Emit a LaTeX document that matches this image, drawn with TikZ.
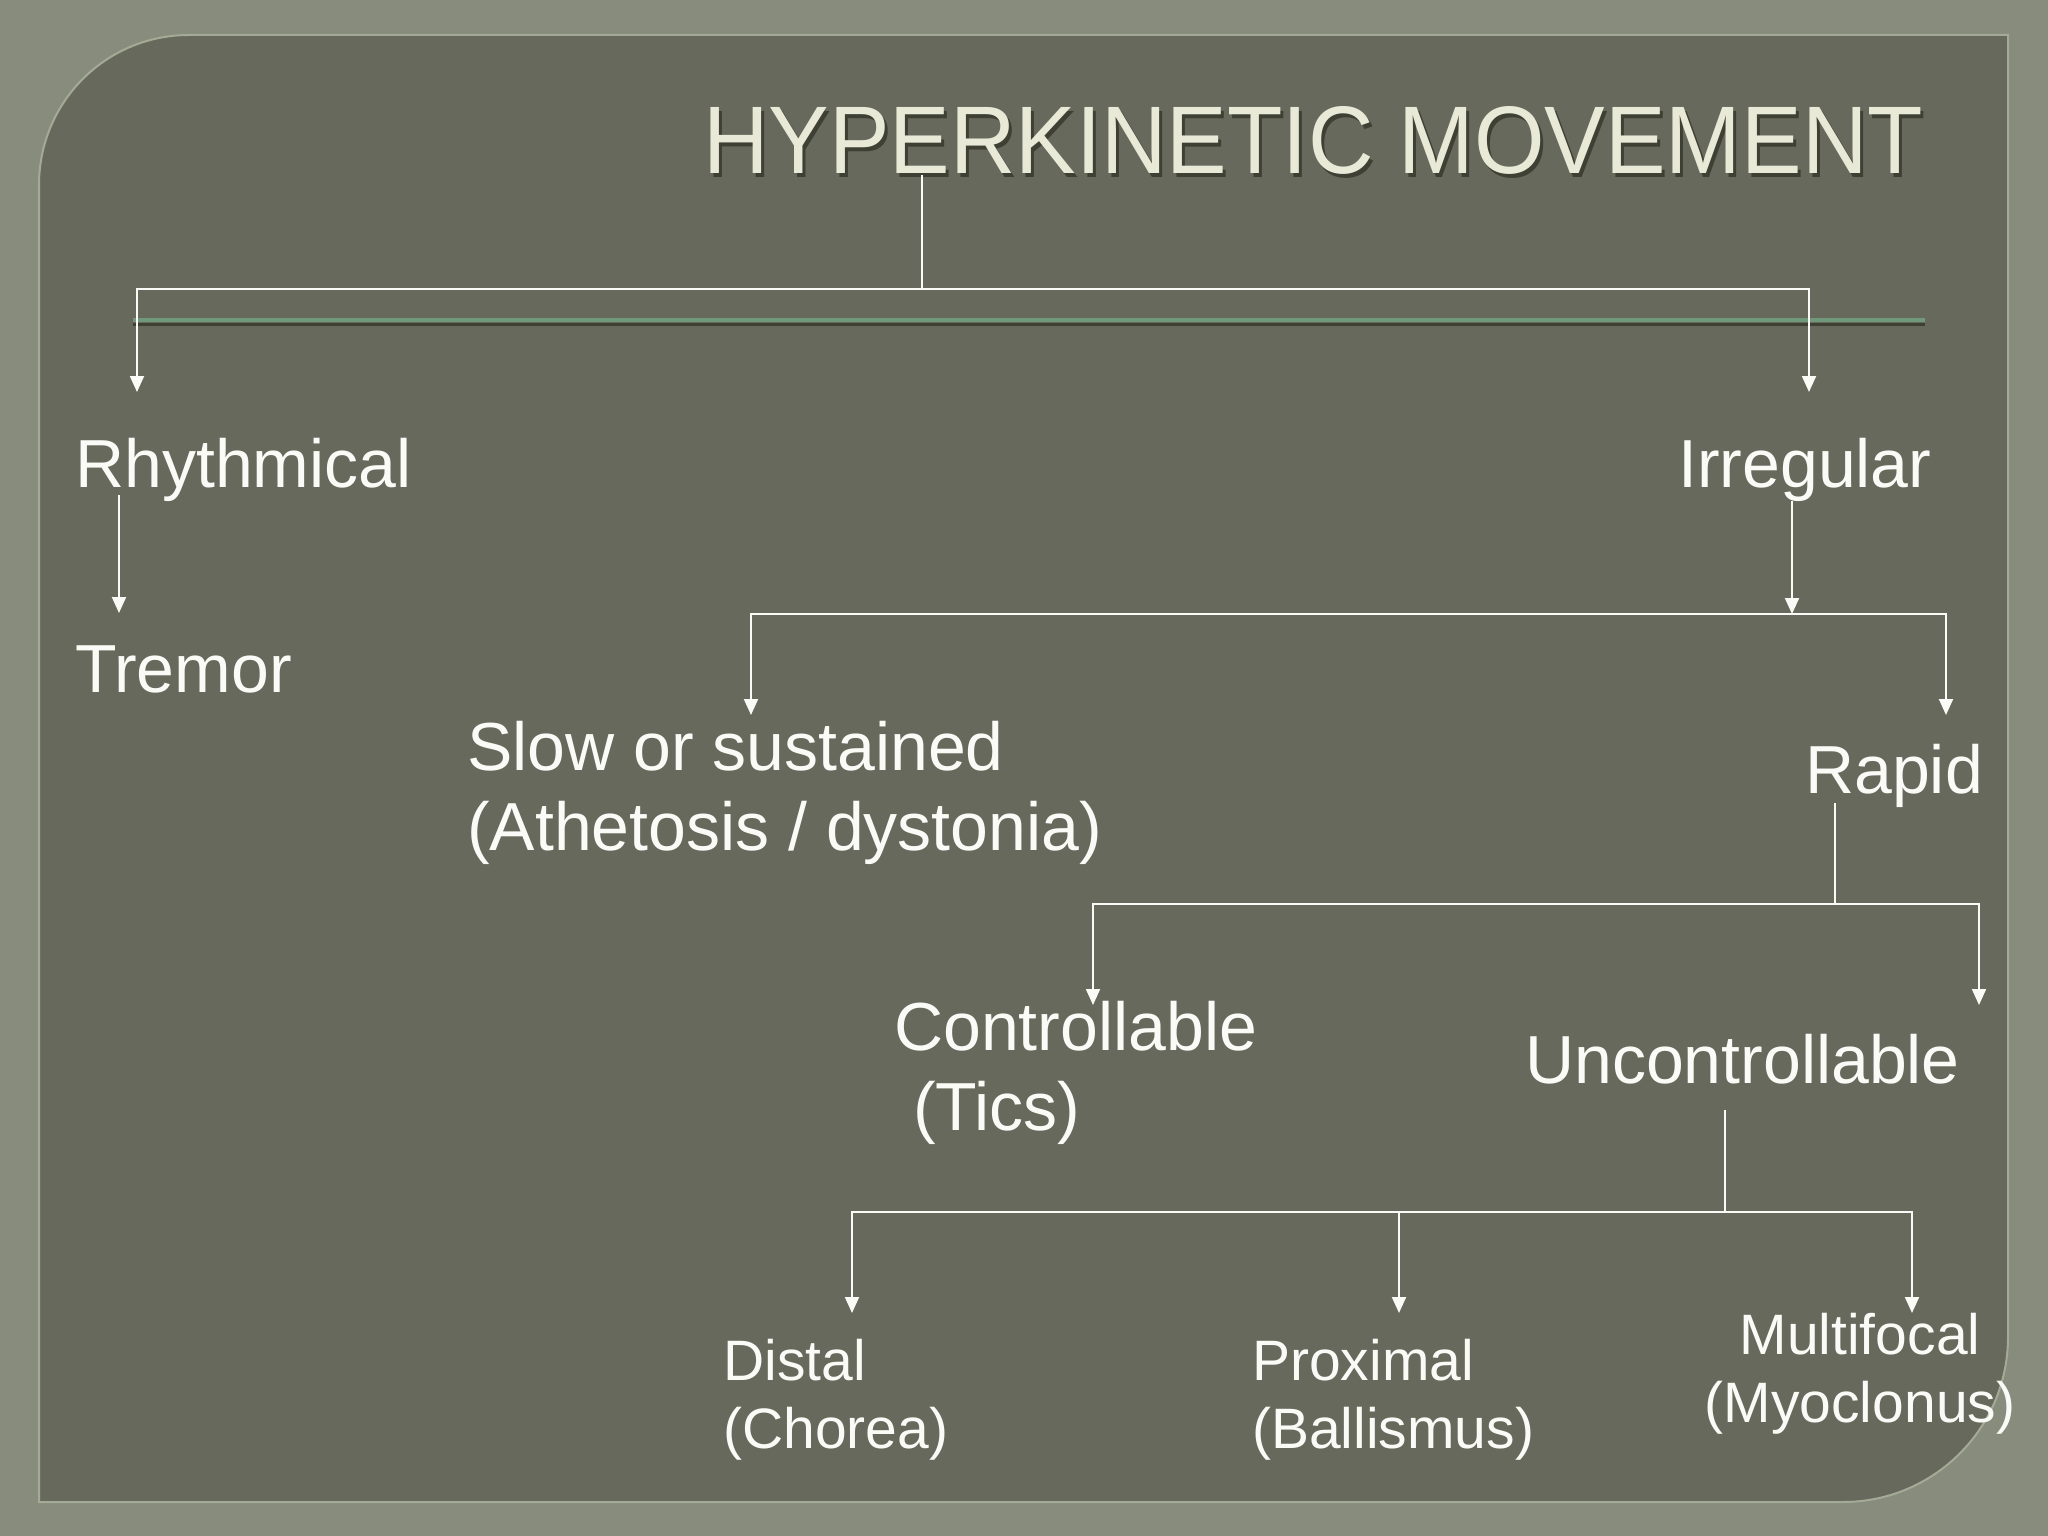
\documentclass[tikz,border=0pt]{standalone}
\usepackage{fontspec}
\setmainfont{Liberation Sans}
\usetikzlibrary{arrows.meta,calc}

\definecolor{slatebg}{RGB}{136,140,124}
\definecolor{panelgrey}{RGB}{103,105,92}
\definecolor{paneledge}{RGB}{165,170,150}
\definecolor{titlecream}{RGB}{232,233,214}
\definecolor{rulegreen}{RGB}{112,152,122}
\definecolor{shadowgrey}{RGB}{62,64,52}
\definecolor{inkwhite}{RGB}{250,250,246}

\begin{document}
\begin{tikzpicture}[x=1pt,y=-1pt,
  txt/.style={inner sep=0pt,anchor=base west,text=inkwhite,align=left,font=\fontsize{68}{80}\selectfont},
  txtsmall/.style={txt,font=\fontsize{57}{68}\selectfont},
  headline/.style={inner sep=0pt,anchor=base west,font=\fontsize{96}{96}\selectfont},
  wire/.style={draw=inkwhite,line width=2pt},
  arr/.style={wire,-{Triangle[width=14pt,length=16pt]}}]
\useasboundingbox (0,0) rectangle (2048,1536);

% slide background
\fill[slatebg] (0,0) rectangle (2048,1536);
\fill[panelgrey] (39,1502) -- (39,185) .. controls (39,102) and (106,35) .. (189,35)
  -- (2008,35) -- (2008,1337) .. controls (2008,1428) and (1934,1502) .. (1843,1502) -- cycle;
\draw[paneledge,line width=2pt] (39,1502) -- (39,185) .. controls (39,102) and (106,35) .. (189,35)
  -- (2008,35) -- (2008,1337) .. controls (2008,1428) and (1934,1502) .. (1843,1502) -- cycle;
\draw[shadowgrey,line width=3pt] (133,324) -- (1925,324);
\draw[rulegreen,line width=4pt] (133,320) -- (1925,320);

% title
\node[headline,text=shadowgrey] (titleshade) at (706,177) {\scalebox{0.945}[1]{HYPERKINETIC MOVEMENT}};
\node[headline,text=titlecream] (title) at (703,174) {\scalebox{0.945}[1]{HYPERKINETIC MOVEMENT}};

% nodes (two-line ones sit on their last baseline)
\node[txt] (rhy)    at (75,487)   {Rhythmical};
\node[txt] (trem)   at (75,692)   {Tremor};
\node[txt] (irr)    at (1678,487) {Irregular};
\node[txt] (slow)   at (467,850)  {Slow or sustained\\(Athetosis / dystonia)};
\node[txt] (rapid)  at (1805,793) {Rapid};
\node[txt] (ctrl)   at (894,1130) {Controllable\\\ (Tics)};
\node[txt] (unctrl) at (1525,1083) {Uncontrollable};
\node[txtsmall] (distal) at (723,1448)  {Distal\\(Chorea)};
\node[txtsmall] (prox)   at (1252,1448) {Proximal\\(Ballismus)};
\node[txtsmall,align=center,anchor=base] (multi) at (1860,1422) {Multifocal\\(Myoclonus)};

% branch points and arrow ends
\coordinate (t0) at (922,289);
\coordinate (rhyin) at (137,392);
\coordinate (irrin) at (1809,392);
\coordinate (tremin) at (119,613);
\coordinate (i0) at (1792,614);
\coordinate (slowin) at (751,715);
\coordinate (rapidin) at (1946,715);
\coordinate (p0) at (1835,904);
\coordinate (ctrlin) at (1093,1005);
\coordinate (unctrlin) at (1979,1005);
\coordinate (u0) at (1725,1212);
\coordinate (distalin) at (852,1313);
\coordinate (proxin) at (1399,1313);
\coordinate (multiin) at (1912,1313);

% connectors
\draw[wire] (title.south -| t0) -- (t0);
\draw[arr] (t0) -| (rhyin);
\draw[arr] (t0) -| (irrin);
\draw[arr] ($(rhy.south -| tremin)+(0,-6)$) -- (tremin);
\draw[arr] (irr.south -| i0) -- (i0);
\draw[arr] (i0) -| (slowin);
\draw[arr] (i0) -| (rapidin);
\draw[wire] ($(rapid.south -| p0)+(0,-4)$) -- (p0);
\draw[arr] (p0) -| (ctrlin);
\draw[arr] (p0) -| (unctrlin);
\draw[wire] ($(unctrl.south -| u0)+(0,26)$) -- (u0);
\draw[arr] (u0) -| (distalin);
\draw[arr] (u0) -- (u0 -| proxin) -- (proxin);
\draw[arr] (u0) -| (multiin);
\end{tikzpicture}
\end{document}
